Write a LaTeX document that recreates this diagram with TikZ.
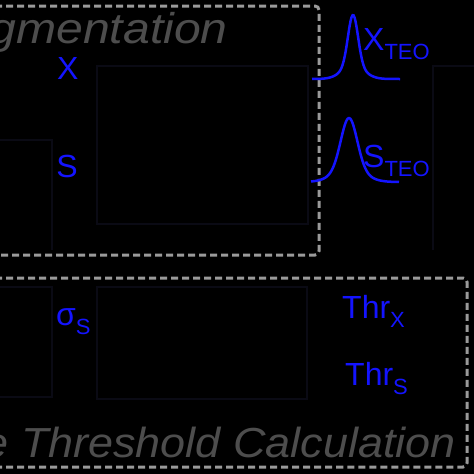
\documentclass[tikz,border=0pt]{standalone}
\usepackage{fontspec}
\setmainfont{Liberation Sans}
\newfontfamily\capfont{Liberation Sans}[FakeStretch=1.07]
\newfontfamily\segfont{Liberation Sans}[FakeStretch=1.12]
\definecolor{sigblue}{HTML}{1414FF}
\definecolor{boxgrey}{HTML}{9A9A9A}
\definecolor{capgrey}{HTML}{4D4D4D}
\definecolor{blockdark}{HTML}{0A0A14}
\newcommand{\lowsub}[1]{\raisebox{-9pt}{\fontsize{22}{22}\selectfont #1}}

\begin{document}
\begin{tikzpicture}[x=1pt,y=1pt,
  frame/.style={boxgrey, line width=3pt, dash pattern=on 7pt off 4pt, rounded corners=4pt},
  block/.style={blockdark, line width=1.5pt},
  sig/.style={text=sigblue, font=\fontsize{32}{32}\selectfont, inner sep=0pt},
  caption/.style={text=capgrey, font=\capfont\itshape\fontsize{42}{42}\selectfont, inner sep=0pt},
  pulse/.style={sigblue, line width=2.5pt, smooth}]
  \begin{scope}[yscale=-1]
  \fill[black] (0,0) rectangle (474,474);
  \useasboundingbox (0,0) rectangle (474,474);
  \clip (0,0) rectangle (474,474);

  % dark blocks behind
  \draw[block] (-5,140) -- (52,140) -- (52,250);
  \draw[block] (97,66) rectangle (308,224);
  \draw[block] (484,66) -- (433,66) -- (433,250);
  \draw[block] (-5,287) rectangle (52,397);
  \draw[block] (97,287) rectangle (307,399);

  % dashed frames
  \draw[frame] (-5,6) -- (319,6) -- (319,255) -- (-5,255);
  \draw[frame] (-5,278) -- (467,278) -- (467,467) -- (-5,467);

  \node[caption, font=\segfont\itshape\fontsize{43}{43}\selectfont, anchor=base east] (segcap) at (228,43) {gmentation};
  \node[caption, anchor=base east] (thrcap) at (456,457) {e Threshold Calculation};

  % signals
  \node[sig, anchor=base west] (sigX) at (57,79) {X};
  \node[sig, anchor=base] (sigS) at (67,177) {S};
  \node[sig, anchor=base west] (sigma) at (56,325) {σ\lowsub{S}};

  \draw[pulse, domain=312:400, samples=90]
    plot (\x, {79-64*(0.8*exp(-((\x-353)^2)/50)+0.2*exp(-((\x-353)^2)/250))});
  \draw[pulse, domain=311:399, samples=90]
    plot (\x, {182-64*(0.8*exp(-((\x-349)^2)/130)+0.2*exp(-((\x-349)^2)/450))});
  \node[sig, anchor=base west] (teoX) at (363,50) {X\lowsub{TEO}};
  \node[sig, anchor=base west] (teoS) at (363,167) {S\lowsub{TEO}};

  \node[sig, anchor=base west] (thrX) at (342,318) {Thr\lowsub{X}};
  \node[sig, anchor=base west] (thrS) at (345,385) {Thr\lowsub{S}};
  \end{scope}
\end{tikzpicture}
\end{document}
